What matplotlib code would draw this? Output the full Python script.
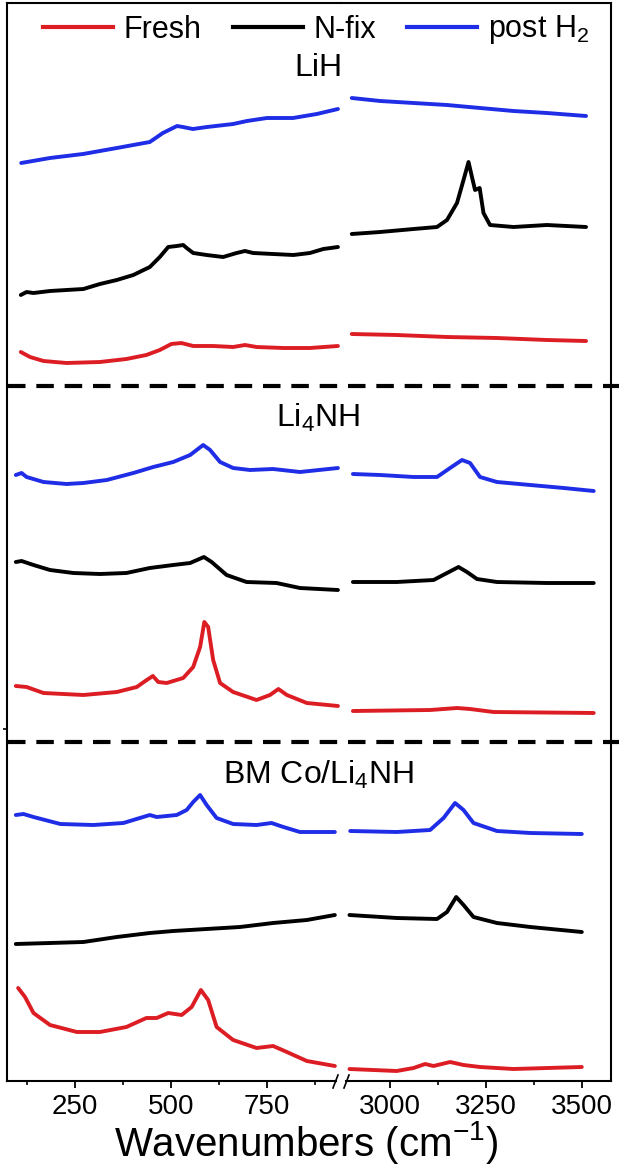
import matplotlib
matplotlib.use("Agg")
import matplotlib.pyplot as plt
from matplotlib.lines import Line2D
from matplotlib.ticker import FixedLocator
import matplotlib.transforms as mtransforms

plt.rcParams['font.family'] = ['Liberation Sans', 'DejaVu Sans']
plt.rcParams['mathtext.fontset'] = 'custom'
plt.rcParams['mathtext.rm'] = 'Liberation Sans'
plt.rcParams['mathtext.it'] = 'Liberation Sans'
plt.rcParams['mathtext.default'] = 'regular'

# ---------------- data (wavenumber, offset intensity) ----------------
series_names = ["Fresh", "N-fix", "post H$_2$"]
panel_names = ["LiH", "Li$_4$NH", "BM Co/Li$_4$NH"]

# LiH
lih_post_L_wn = [110, 185, 271, 359, 445, 479, 516, 531, 557, 594, 662, 698, 750, 818, 880, 935]
lih_post_L = [918, 923, 927, 933, 939, 948, 955, 954, 952, 954, 957, 960, 963, 963, 967, 972]
lih_post_R_wn = [2900, 2974, 3061, 3148, 3234, 3321, 3408, 3510]
lih_post_R = [983, 980, 978, 976, 973, 970, 968, 965]

lih_nfix_L_wn = [109, 124, 142, 185, 228, 272, 315, 359, 402, 445, 471, 493, 515, 532, 541, 558,
                 593, 636, 671, 693, 714, 766, 819, 862, 897, 935]
lih_nfix_L = [786, 789, 788, 790, 791, 792, 797, 801, 806, 814, 824, 834, 835, 836, 833, 828,
              826, 824, 828, 830, 828, 827, 826, 828, 832, 834]
lih_nfix_R_wn = [2900, 2974, 3061, 3122, 3148, 3174, 3191, 3204, 3213, 3221, 3233, 3243, 3260,
                 3321, 3408, 3510]
lih_nfix_R = [847, 849, 852, 854, 861, 878, 901, 919, 904, 891, 893, 868, 856, 854, 856, 854]

lih_fresh_L_wn = [109, 133, 168, 228, 315, 384, 436, 471, 501, 527, 558, 610, 662, 693, 723, 793,
                  862, 935]
lih_fresh_L = [729, 724, 720, 718, 719, 722, 726, 731, 737, 738, 735, 735, 734, 736, 734, 733,
               733, 735]
lih_fresh_R_wn = [2900, 3017, 3148, 3278, 3408, 3510]
lih_fresh_R = [747, 746, 744, 743, 741, 740]

# Li4NH
li4_post_L_wn = [96, 111, 124, 168, 228, 272, 333, 402, 454, 506, 550, 584, 602, 628, 662, 706,
                 766, 836, 935]
li4_post_L = [606, 608, 604, 599, 597, 598, 601, 608, 614, 619, 626, 636, 631, 619, 613, 611,
              612, 609, 613]
li4_post_R_wn = [2903, 2974, 3061, 3122, 3156, 3187, 3208, 3234, 3278, 3365, 3452, 3530]
li4_post_R = [607, 606, 604, 604, 613, 621, 618, 604, 599, 596, 593, 590]

li4_nfix_L_wn = [96, 111, 142, 185, 246, 315, 384, 445, 506, 550, 586, 606, 645, 697, 775, 836, 935]
li4_nfix_L = [519, 520, 516, 511, 508, 507, 508, 513, 516, 518, 524, 519, 506, 499, 498, 493, 491]
li4_nfix_R_wn = [2903, 3017, 3113, 3148, 3178, 3200, 3226, 3278, 3408, 3530]
li4_nfix_R = [499, 499, 501, 508, 514, 509, 502, 499, 498, 498]

li4_fresh_L_wn = [96, 124, 168, 272, 359, 411, 437, 453, 467, 489, 532, 558, 576, 587, 597, 610,
                  628, 662, 723, 758, 780, 802, 854, 935]
li4_fresh_L = [395, 394, 388, 386, 389, 394, 401, 405, 399, 398, 403, 414, 434, 459, 454, 421,
               398, 389, 381, 386, 392, 386, 378, 375]
li4_fresh_R_wn = [2903, 3104, 3174, 3208, 3269, 3530]
li4_fresh_R = [370, 371, 373, 372, 369, 368]

# BM Co/Li4NH
bm_post_L_wn = [96, 116, 142, 212, 298, 376, 419, 445, 463, 515, 541, 558, 576, 593, 619, 662,
                723, 762, 793, 836, 927]
bm_post_L = [266, 267, 264, 257, 256, 258, 263, 266, 264, 266, 271, 279, 286, 276, 263, 257,
             256, 258, 254, 249, 249]
bm_post_R_wn = [2896, 3017, 3104, 3139, 3169, 3191, 3217, 3278, 3365, 3499]
bm_post_R = [250, 249, 251, 263, 278, 271, 258, 250, 248, 247]

bm_nfix_L_wn = [96, 185, 272, 359, 445, 506, 593, 680, 766, 854, 927]
bm_nfix_L = [137, 138, 139, 144, 148, 150, 152, 154, 158, 161, 166]
bm_nfix_R_wn = [2894, 3017, 3122, 3148, 3172, 3191, 3217, 3278, 3365, 3499]
bm_nfix_R = [166, 163, 162, 169, 184, 176, 164, 158, 154, 149]

bm_fresh_L_wn = [102, 120, 142, 185, 255, 315, 384, 436, 463, 493, 528, 554, 578, 597, 619, 662,
                 723, 766, 802, 854, 927]
bm_fresh_L = [93, 84, 68, 56, 49, 49, 54, 63, 63, 68, 66, 74, 91, 81, 54, 41, 33, 35, 29, 20, 15]
bm_fresh_R_wn = [2894, 3017, 3061, 3091, 3113, 3156, 3191, 3234, 3321, 3499]
bm_fresh_R = [12, 10, 13, 17, 15, 19, 16, 14, 12, 14]

left_ticks = [250, 500, 750]
left_minor = [125, 375, 625, 875]
right_ticks = [3000, 3250, 3500]
right_minor = [3125, 3375]
separators = [695, 339]          # dashed panel separators (intensity units)
label_levels = [1013, 663, 306]  # panel label heights

colors = {"Fresh": "#dc1e24", "N-fix": "#000000", "post H$_2$": "#1f2ee6"}

# ---------------- figure ----------------
W, H = 619, 1166
fig = plt.figure(figsize=(W / 100, H / 100), dpi=100)

def fx(px):
    return px / W

def fy(py):
    return 1 - py / H

ax_bottom, ax_top = 1081, 3
axL = fig.add_axes([fx(7), fy(ax_bottom), fx(341) - fx(7), fy(ax_top) - fy(ax_bottom)])
axR = fig.add_axes([fx(341), fy(ax_bottom), fx(611) - fx(341), fy(ax_top) - fy(ax_bottom)])

axL.set_xlim(73, 943)
axR.set_xlim(2872, 3575)
for ax in (axL, axR):
    ax.set_ylim(0, 1078)

lw = 2.8
traces = [
    (lih_fresh_L_wn, lih_fresh_L, lih_fresh_R_wn, lih_fresh_R, "Fresh"),
    (lih_nfix_L_wn, lih_nfix_L, lih_nfix_R_wn, lih_nfix_R, "N-fix"),
    (lih_post_L_wn, lih_post_L, lih_post_R_wn, lih_post_R, "post H$_2$"),
    (li4_fresh_L_wn, li4_fresh_L, li4_fresh_R_wn, li4_fresh_R, "Fresh"),
    (li4_nfix_L_wn, li4_nfix_L, li4_nfix_R_wn, li4_nfix_R, "N-fix"),
    (li4_post_L_wn, li4_post_L, li4_post_R_wn, li4_post_R, "post H$_2$"),
    (bm_fresh_L_wn, bm_fresh_L, bm_fresh_R_wn, bm_fresh_R, "Fresh"),
    (bm_nfix_L_wn, bm_nfix_L, bm_nfix_R_wn, bm_nfix_R, "N-fix"),
    (bm_post_L_wn, bm_post_L, bm_post_R_wn, bm_post_R, "post H$_2$"),
]
for xl, yl, xr, yr, name in traces:
    axL.plot(xl, yl, color=colors[name], lw=lw, solid_capstyle='round', solid_joinstyle='round')
    axR.plot(xr, yr, color=colors[name], lw=lw, solid_capstyle='round', solid_joinstyle='round')

# spines
for ax in (axL, axR):
    for s in ax.spines.values():
        s.set_linewidth(1.5)
axL.spines['right'].set_visible(False)
axR.spines['left'].set_visible(False)
axL.spines['bottom'].set_bounds(73, 930)
axR.spines['bottom'].set_bounds(2885, 3575)

# ticks
tick_fs = 20
axL.xaxis.set_major_locator(FixedLocator(left_ticks))
axL.xaxis.set_minor_locator(FixedLocator(left_minor))
axR.xaxis.set_major_locator(FixedLocator(right_ticks))
axR.xaxis.set_minor_locator(FixedLocator(right_minor))
for ax in (axL, axR):
    ax.tick_params(axis='x', which='major', direction='out', length=5, width=1.3,
                   labelsize=tick_fs, pad=4)
    ax.tick_params(axis='x', which='minor', direction='out', length=3, width=1.2)
    ax.tick_params(axis='x', which='both', top=False)
axL.set_yticks([352])
axL.tick_params(axis='y', direction='out', length=3, width=1.2, labelleft=False)
axR.set_yticks([])

# break marks
for x0 in (333, 344):
    fig.add_artist(Line2D([fx(x0), fx(x0 + 5)], [fy(1088), fy(1075)], color='black', lw=1.2))

# dashed separators spanning both halves
trans = mtransforms.blended_transform_factory(fig.transFigure, axL.transData)
for yv in separators:
    fig.add_artist(Line2D([fx(8), fx(619)], [yv, yv], transform=trans, color='black',
                          lw=3.0, linestyle=(0, (4.2, 2.6))))

# panel labels
for name, yv in zip(panel_names, label_levels):
    fig.text(fx(318), yv, name, transform=trans, ha='center', va='center', fontsize=23)

# x label
fig.text(fx(306), fy(1143), "Wavenumbers (cm$^{-1}$)", ha='center', va='center', fontsize=29)

# legend
handles = [Line2D([], [], color=colors[n], lw=3) for n in series_names]
fig.legend(handles, series_names, loc='center', bbox_to_anchor=(fx(316), fy(30)), ncol=3,
           frameon=False, fontsize=22, handlelength=2.3, handletextpad=0.35,
           columnspacing=1.0, borderaxespad=0)

fig.savefig("out.png", dpi=100)
